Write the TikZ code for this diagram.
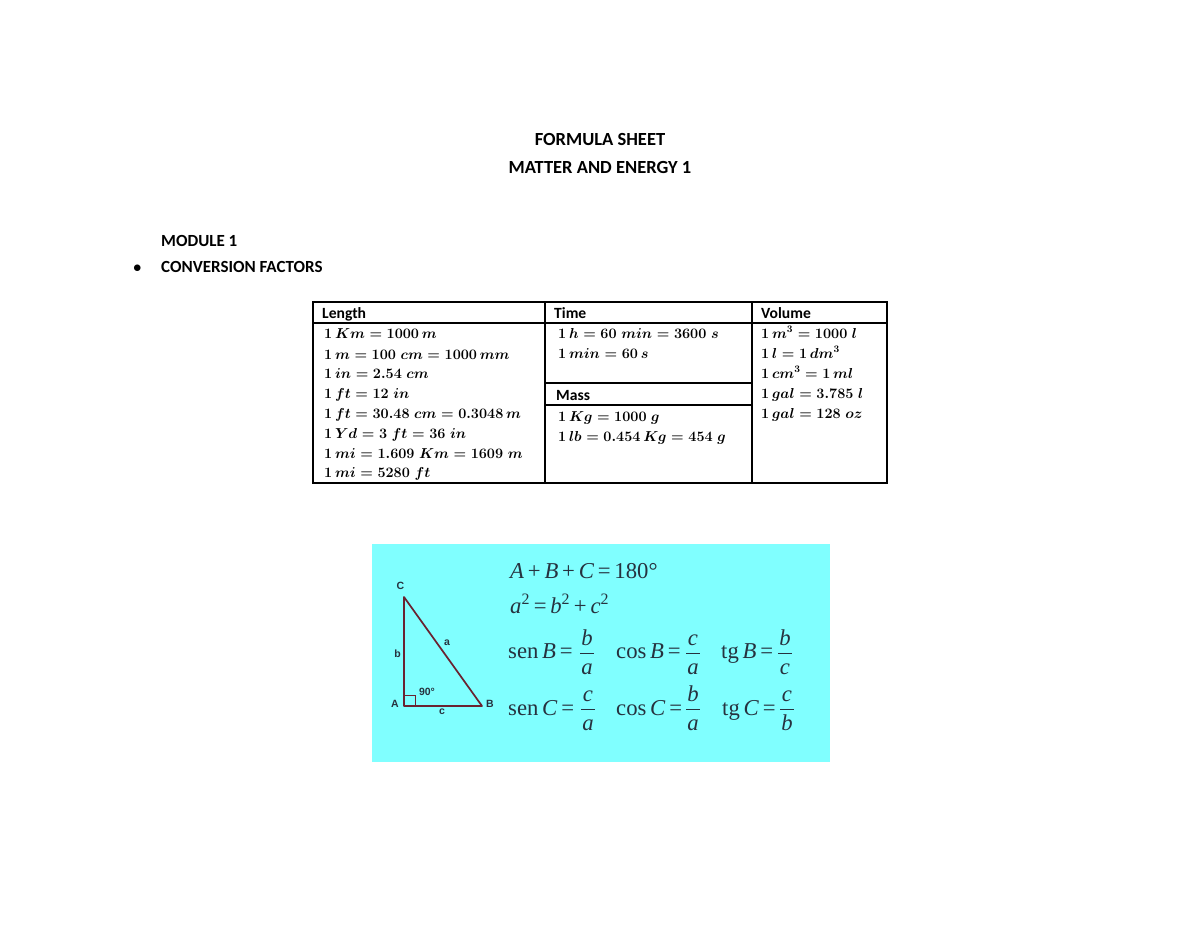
\documentclass[tikz,border=0pt]{standalone}
\usepackage{fix-cm}
\usepackage{amsmath}
\usepackage{fontspec}
\setmainfont{Carlito}
\newfontfamily\trifont{Liberation Sans}
\newfontfamily\eqfont{Liberation Serif}
\definecolor{panelcyan}{HTML}{80FFFF}
\definecolor{trired}{HTML}{6A2230}
\definecolor{eqink}{HTML}{26323F}
\tikzset{
  heading/.style={anchor=base,inner sep=0,font=\fontsize{18.5}{20}\selectfont\bfseries},
  lefthead/.style={anchor=base west,inner sep=0,font=\fontsize{17}{20}\selectfont\bfseries},
  cellhead/.style={anchor=base west,inner sep=0,font=\fontsize{15.6}{20}\selectfont\bfseries},
  cellmath/.style={anchor=base west,inner sep=0,font=\fontsize{14.4}{20}\selectfont\boldmath},
  trilabel/.style={inner sep=0,text=eqink,font=\trifont\bfseries\fontsize{10.5}{11}\selectfont},
  eq/.style={anchor=base west,inner sep=0,text=eqink,font=\eqfont\fontsize{22.7}{26}\selectfont},
  frac/.style={anchor=base,inner sep=0,text=eqink,font=\eqfont\itshape\fontsize{22.7}{26}\selectfont}
}
% numerator, bar and denominator around a centre
\newcommand{\fracat}[5]{%
  \node[frac] (#1n) at (#2,#3-8) {#4};
  \node[frac] (#1d) at (#2,#3+21) {#5};
  \draw[eqink,line width=.8pt] (#2-7,#3) -- (#2+7,#3);
}
\begin{document}
\begin{tikzpicture}[x=1pt,y=-1pt]
\useasboundingbox (0,0) rectangle (1200,927);
\fill[white] (0,0) rectangle (1200,927);

\node[heading] (title) at (600,145) {FORMULA SHEET};
\node[heading] (subtitle) at (600,173) {MATTER AND ENERGY 1};
\node[lefthead] (module) at (161,246) {MODULE 1};
\node[lefthead] (bullet) at (133,272) {$\bullet$};
\node[lefthead] (factors) at (161,272) {CONVERSION FACTORS};

% table
\draw[line width=2pt] (313,302) rectangle (887,483);
\draw[line width=2pt] (545,302) -- (545,483);
\draw[line width=2pt] (752,302) -- (752,483);
\draw[line width=2pt] (313,323) -- (887,323);
\draw[line width=2pt] (545,383) -- (752,383);
\draw[line width=2pt] (545,405) -- (752,405);

\node[cellhead] (length) at (322,318) {Length};
\node[cellhead] (time) at (554,318) {Time};
\node[cellhead] (volume) at (761,318) {Volume};
\node[cellhead] (mass) at (556,400) {Mass};

\node[cellmath] (len1) at (324,338) {$1\,Km=1000\,m$};
\node[cellmath] (len2) at (324,359) {$1\,m=100\;cm=1000\,mm$};
\node[cellmath] (len3) at (324,378) {$1\,in=2.54\;cm$};
\node[cellmath] (len4) at (324,398) {$1\,ft=12\;in$};
\node[cellmath] (len5) at (324,418) {$1\,ft=30.48\;cm=0.3048\,m$};
\node[cellmath] (len6) at (324,438) {$1\,Yd=3\;ft=36\;in$};
\node[cellmath] (len7) at (324,458) {$1\,mi=1.609\;Km=1609\;m$};
\node[cellmath] (len8) at (324,477) {$1\,mi=5280\;ft$};

\node[cellmath] (time1) at (558,338) {$1\,h=60\;min=3600\;s$};
\node[cellmath] (time2) at (558,358) {$1\,min=60\,s$};
\node[cellmath] (mass1) at (558,421) {$1\,Kg=1000\;g$};
\node[cellmath] (mass2) at (558,441) {$1\,lb=0.454\,Kg=454\;g$};

\node[cellmath] (vol1) at (761,338) {$1\,m^3=1000\;l$};
\node[cellmath] (vol2) at (761,358) {$1\,l=1\,dm^3$};
\node[cellmath] (vol3) at (761,378) {$1\,cm^3=1\,ml$};
\node[cellmath] (vol4) at (761,398) {$1\,gal=3.785\;l$};
\node[cellmath] (vol5) at (761,418) {$1\,gal=128\;oz$};

% panel
\fill[panelcyan] (372,544) rectangle (830,762);

\coordinate (ptA) at (404,706);
\coordinate (ptB) at (482,706);
\coordinate (ptC) at (404,597);
\draw[trired,line width=1.7pt,line join=round] (ptA) -- (ptB) -- (ptC) -- cycle;
\draw[trired,line width=.8pt] (404,695) -| (415,706);
\node[trilabel] (lblC) at (400.5,586) {C};
\node[trilabel] (lblb) at (397.5,654) {b};
\node[trilabel] (lbla) at (447,643) {a};
\node[trilabel] (lblA) at (395,704) {A};
\node[trilabel] (lblB) at (490,704) {B};
\node[trilabel] (lblc) at (442,712) {c};
\node[trilabel] (lbl90) at (427,692) {90\textdegree};

\node[eq] (sum) at (510,578) {\textit{A}\,+\,\textit{B}\,+\,\textit{C}\,=\,180\textdegree};
\node[eq] (pyth) at (510,613) {\textit{a}\textsuperscript{2}\,=\,\textit{b}\textsuperscript{2}\,+\,\textit{c}\textsuperscript{2}};

\node[eq] (senB) at (508,658) {sen\,\textit{B}\,=};
\fracat{senB}{587}{653}{b}{a}
\node[eq] (cosB) at (616,658) {cos\,\textit{B}\,=};
\fracat{cosB}{693}{653}{c}{a}
\node[eq] (tgB) at (721,658) {tg\,\textit{B}\,=};
\fracat{tgB}{785}{653}{b}{c}

\node[eq] (senC) at (508,715) {sen\,\textit{C}\,=};
\fracat{senC}{588}{709}{c}{a}
\node[eq] (cosC) at (616,715) {cos\,\textit{C}\,=};
\fracat{cosC}{693}{709}{b}{a}
\node[eq] (tgC) at (722,715) {tg\,\textit{C}\,=};
\fracat{tgC}{787}{709}{c}{b}
\end{tikzpicture}
\end{document}
